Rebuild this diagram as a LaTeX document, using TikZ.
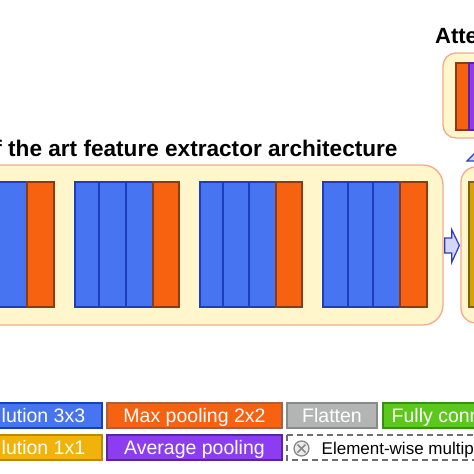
\documentclass[tikz,border=0pt]{standalone}
\usepackage{fontspec}
\setmainfont{Liberation Sans}
\usetikzlibrary{calc}
\definecolor{blueF}{HTML}{4774F0}
\definecolor{blueD}{HTML}{1B3DBE}
\definecolor{orangeF}{HTML}{F66210}
\definecolor{orangeD}{HTML}{8E3A12}
\definecolor{purpleF}{HTML}{8B3DEF}
\definecolor{purpleD}{HTML}{5B22A8}
\definecolor{goldF}{HTML}{F1B20A}
\definecolor{goldD}{HTML}{B98A08}
\definecolor{grayF}{HTML}{B3B5B5}
\definecolor{grayD}{HTML}{888A8A}
\definecolor{greenF}{HTML}{5DC81C}
\definecolor{greenD}{HTML}{3A8E12}
\definecolor{creamF}{HTML}{FFF6CC}
\definecolor{creamD}{HTML}{F2AC8C}
\definecolor{arrowF}{HTML}{D3D6F5}
\definecolor{arrowD}{HTML}{2B3EC2}
\tikzset{
  panel/.style={draw=creamD, fill=creamF, line width=1.3pt, rectangle, inner sep=0pt},
  bluebar/.style={draw=blueD, fill=blueF, line width=1.1pt},
  orangebar/.style={draw=orangeD, fill=orangeF, line width=1.1pt},
  purplebar/.style={draw=purpleD, fill=purpleF, line width=1.1pt},
  goldbar/.style={draw=goldD!70!black, fill=goldF!90!black, line width=1.1pt},
  blockarrow/.style={draw=arrowD, fill=arrowF, line width=1.2pt, line join=miter},
  legbox/.style={line width=1.3pt},
  legtext/.style={inner sep=0pt, text=white, font=\fontsize{19.5}{20}\selectfont},
  titletext/.style={inner sep=0pt, font=\fontsize{22.6}{24}\selectfont\bfseries},
}
\begin{document}
\begin{tikzpicture}[x=1pt,y=-1pt]
\useasboundingbox (0,0) rectangle (474,474);
\clip (0,0) rectangle (474,474);
\fill[white] (0,0) rectangle (474,474);

% titles
\node[titletext, anchor=base west] (title) at (-5.8,156.5) {f the art feature extractor architecture};
\node[titletext, anchor=base west, font=\fontsize{22}{24}\selectfont\bfseries] (atttitle) at (435,43) {Atte};

% panels
\node[panel, rounded corners=20pt, minimum width=473pt, minimum height=160pt] (fe) at (206.5,245) {};
\node[panel, rounded corners=15pt, minimum width=60pt, minimum height=156pt] (rp) at (491,245) {};
\node[panel, rounded corners=13pt, minimum width=60pt, minimum height=85pt] (at) at (473,95.5) {};

% feature extractor bars
\draw[bluebar] (-20,182) rectangle (27,307);
\draw[orangebar] (27,182) rectangle (54,307);
\draw[bluebar] (75,182) rectangle (99,307);
\draw[bluebar] (99,182) rectangle (126,307);
\draw[bluebar] (126,182) rectangle (153,307);
\draw[orangebar] (153,182) rectangle (179,307);
\draw[bluebar] (200,182) rectangle (223,307);
\draw[bluebar] (223,182) rectangle (249,307);
\draw[bluebar] (249,182) rectangle (276,307);
\draw[orangebar] (276,182) rectangle (302,307);
\draw[bluebar] (323,182) rectangle (348,307);
\draw[bluebar] (348,182) rectangle (373,307);
\draw[bluebar] (373,182) rectangle (400,307);
\draw[orangebar] (400,182) rectangle (427,307);

% right panel bar
\draw[goldbar] (469,182) rectangle (510,307);
% attention bars
\draw[orangebar] (456,63) rectangle (469,130);
\draw[purplebar] (469,63) rectangle (510,130);

% block arrow fe -> rp
\coordinate (a0) at ($(fe.east)+(1,0.5)$);
\draw[blockarrow] ($(a0)+(0,-7.5)$) -- ($(a0)+(7,-7.5)$) -- ($(a0)+(7,-16)$)
  -- ($(rp.west)+(-1,0.5)$) -- ($(a0)+(7,17)$) -- ($(a0)+(7,7.5)$) -- ($(a0)+(0,7.5)$) -- cycle;

% block arrow rp -> at (mostly outside the picture)
\coordinate (b0) at (482,146);
\draw[blockarrow] (b0) -- (467,161) -- (475,161) -- (475,166) -- (489,166) -- (489,161) -- (497,161) -- cycle;

% legend row 1
\draw[legbox, draw=blueD, fill=blueF] (-72,403) rectangle (102,428);
\draw[legbox, draw=orangeD!80, fill=orangeF] (107,403) rectangle (282,428);
\draw[legbox, draw=grayD, fill=grayF] (287,403) rectangle (377,428);
\draw[legbox, draw=greenD, fill=greenF] (383,403) rectangle (560,428);
\node[legtext, anchor=base west] (l1) at (1.5,422.5) {lution 3x3};
\node[legtext, anchor=base] (l2) at (194.5,422.5) {Max pooling 2x2};
\node[legtext, anchor=base] (l3) at (332,422.5) {Flatten};
\node[legtext, anchor=base west] (l4) at (391.5,422.5) {Fully conn};

% legend row 2
\draw[legbox, draw=goldD, fill=goldF] (-72,435) rectangle (102,460);
\draw[legbox, draw=purpleD, fill=purpleF] (107,435) rectangle (282,460);
\draw[legbox, draw=grayD!80!black, fill=white, dashed, dash pattern=on 6pt off 4pt] (287,435) rectangle (560,460);
\node[legtext, anchor=base west] (l5) at (1.5,454.5) {lution 1x1};
\node[legtext, anchor=base] (l6) at (194.5,454.5) {Average pooling};
\node[draw=grayD, fill=gray!15, line width=1.3pt, circle, minimum size=15pt, inner sep=0pt] (ox) at (301.5,448.5) {};
\draw[grayD, line width=1.5pt] ($(ox.center)+(-4,-4)$) -- ($(ox.center)+(4,4)$);
\draw[grayD, line width=1.5pt] ($(ox.center)+(-4,4)$) -- ($(ox.center)+(4,-4)$);
\node[inner sep=0pt, anchor=base west, font=\fontsize{17}{18}\selectfont] (l7) at (321.5,454.5) {Element-wise multip};
\end{tikzpicture}
\end{document}
